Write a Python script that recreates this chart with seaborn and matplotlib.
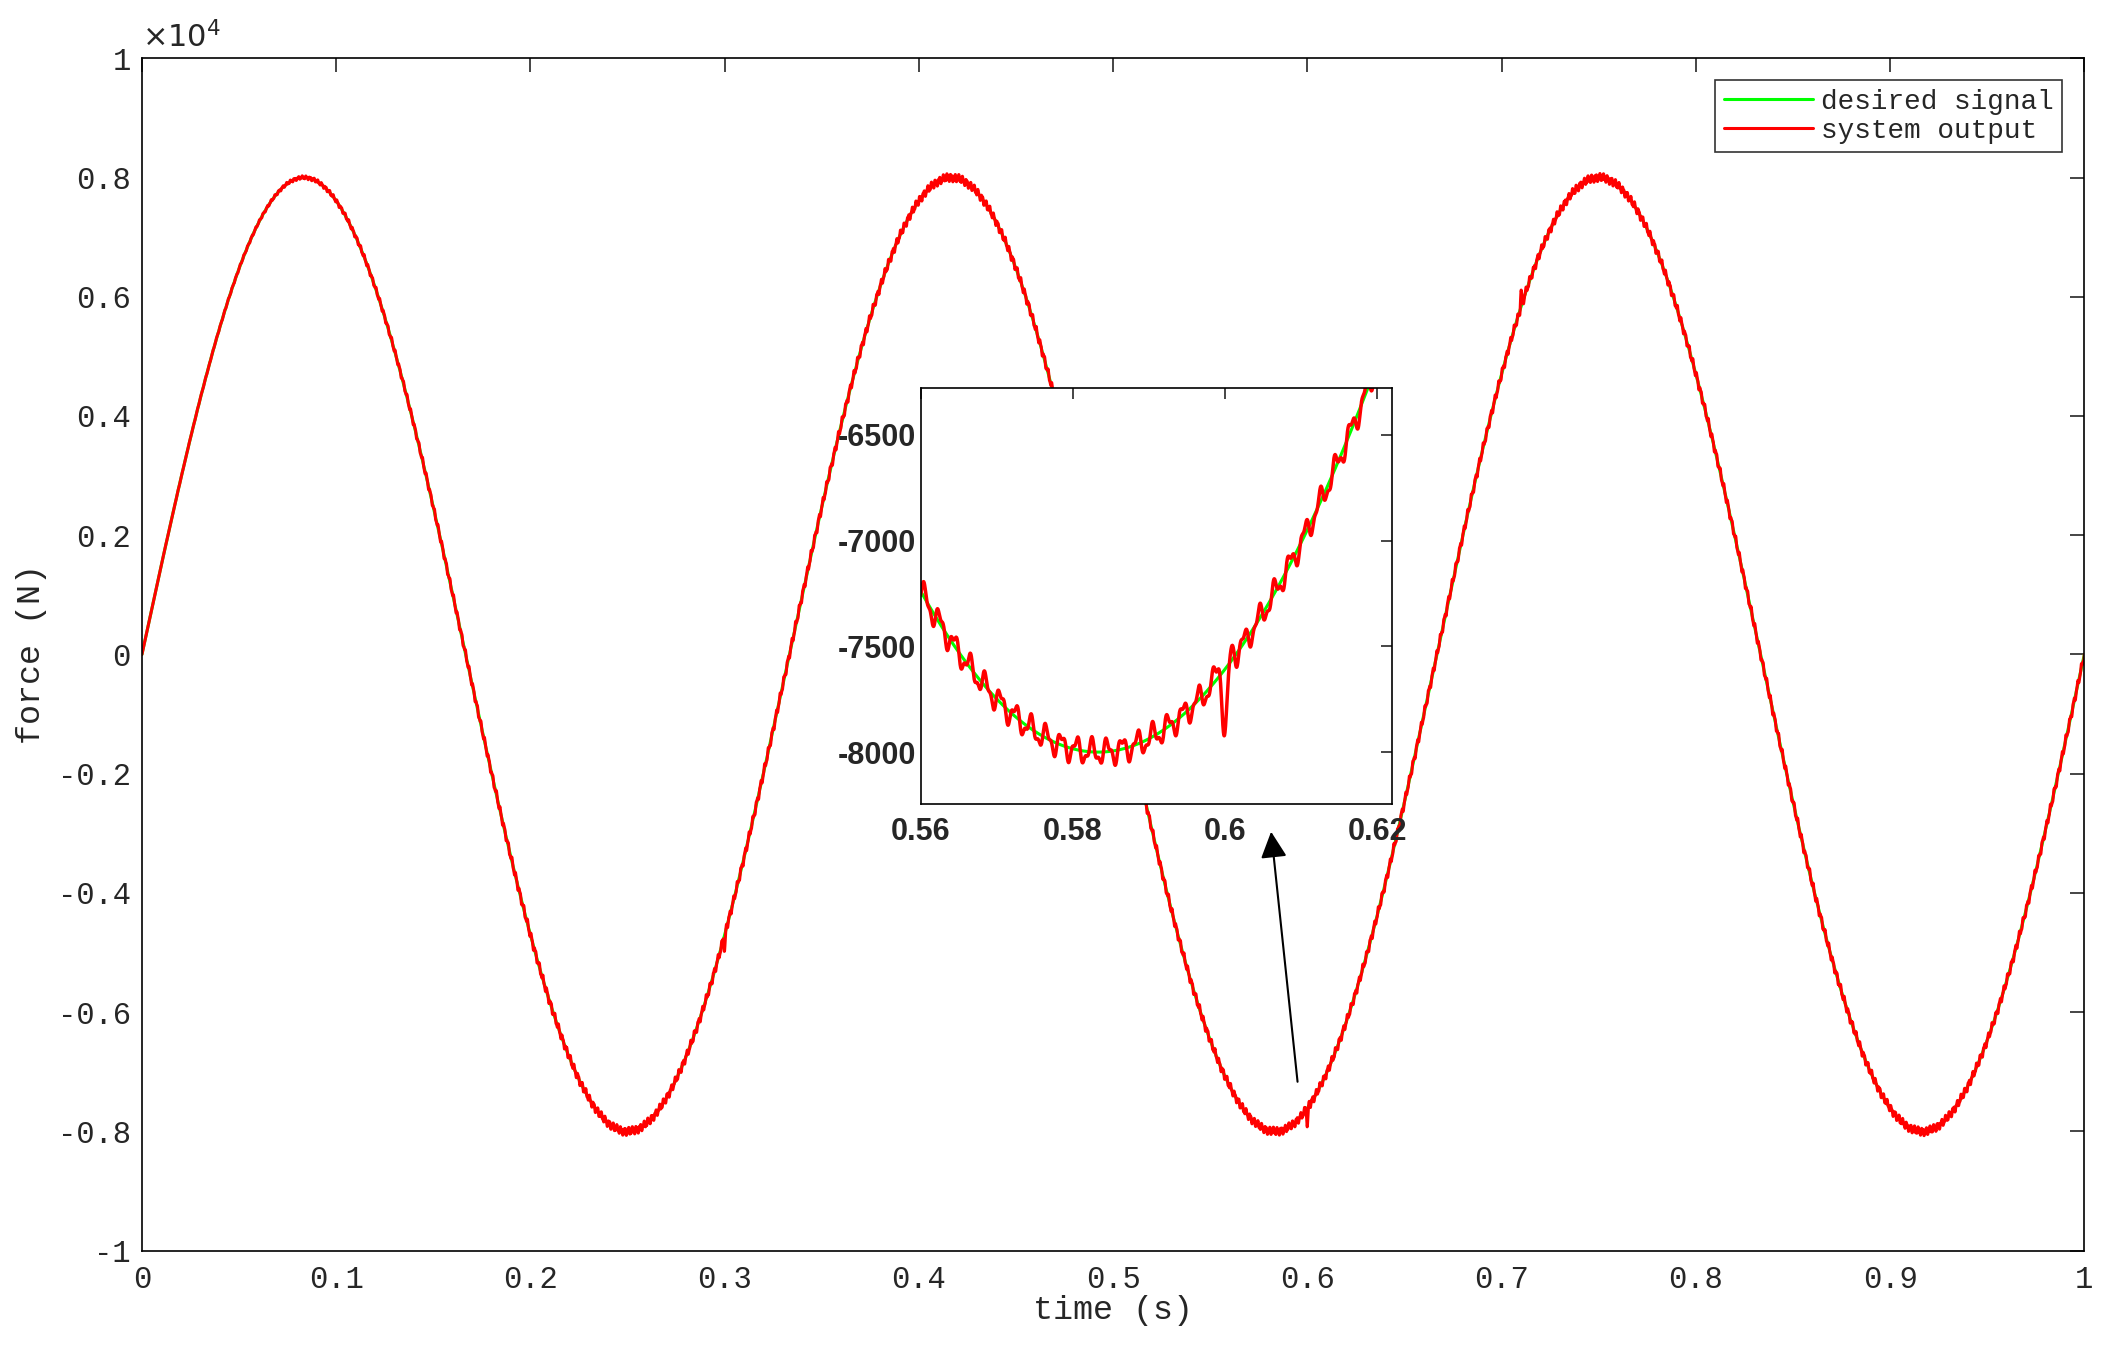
import numpy as np
import matplotlib
matplotlib.use("Agg")
import matplotlib.pyplot as plt
import seaborn as sns

# data parameters
amplitude = 8000.0          # N
frequency = 3.0             # Hz
ripple_amp = [50.0, 22.0]   # N
ripple_freq = [500.0, 1130.0]  # Hz
spike_times = [0.30, 0.60, 0.71]
spike_amps = [-250.0, -300.0, 250.0]
t_end = 1.0
n_samples = 40001

t = np.linspace(0, t_end, n_samples)
desired = amplitude * np.sin(2 * np.pi * frequency * t)
env = np.clip(t / 0.2, 0, 1)
output = desired.copy()
for a, f in zip(ripple_amp, ripple_freq):
    output += env * a * np.sin(2 * np.pi * f * t)
for ts, a in zip(spike_times, spike_amps):
    output += a * np.exp(-((t - ts) / 0.0008) ** 2) * np.sin(2 * np.pi * 400 * (t - ts) + 1.5)

sns.set_theme(style="white")
plt.rcParams['font.family'] = ['Liberation Mono', 'DejaVu Sans']
plt.rcParams['axes.unicode_minus'] = False

fig = plt.figure(figsize=(21.09, 13.55), dpi=100)
ax = fig.add_axes([0.0673, 0.077, 0.921, 0.880])
sns.lineplot(x=t, y=desired, ax=ax, color='#00ff00', lw=2.2, label='desired signal')
sns.lineplot(x=t, y=output, ax=ax, color='red', lw=2.2, label='system output')
ax.set_xlim(0, 1)
ax.set_ylim(-10000, 10000)
ax.set_xticks(np.arange(0, 1.01, 0.1))
ax.set_xticklabels(['0'] + ['%.1f' % v for v in np.arange(0.1, 0.95, 0.1)] + ['1'])
ax.set_yticks(np.arange(-10000, 10001, 2000))
ax.set_yticklabels(['-1', '-0.8', '-0.6', '-0.4', '-0.2', '0', '0.2', '0.4', '0.6', '0.8', '1'])
ax.text(0.0, 1.003, r'$\times10^4$', transform=ax.transAxes, fontsize=22, va='bottom', ha='left')
ax.tick_params(direction='in', length=10, labelsize=22, top=True, right=True, width=1.2)
ax.tick_params(axis='x', pad=10)
ax.tick_params(axis='y', pad=8)
for s in ax.spines.values():
    s.set_color('black'); s.set_linewidth(1.2)
ax.set_xlabel('time (s)', fontsize=24, labelpad=0)
ax.set_ylabel('force (N)', fontsize=24, labelpad=8)
leg = ax.legend(loc='upper right', fontsize=20, frameon=True, fancybox=False,
                edgecolor='black', borderaxespad=0.8, handlelength=3.2,
                borderpad=0.3, labelspacing=0.1, handletextpad=0.3)
leg.get_frame().set_linewidth(1.2)

ins = fig.add_axes([0.4365, 0.407, 0.2237, 0.307])
m = (t >= 0.56) & (t <= 0.622)
sns.lineplot(x=t[m], y=desired[m], ax=ins, color='#00ff00', lw=2.2)
sns.lineplot(x=t[m], y=output[m], ax=ins, color='red', lw=2.5)
ins.set_xlim(0.56, 0.622)
ins.set_ylim(-8243, -6277)
ins.set_xticks([0.56, 0.58, 0.6, 0.62])
ins.set_xticklabels(['0.56', '0.58', '0.6', '0.62'])
ins.set_yticks([-8000, -7500, -7000, -6500])
ins.set_yticklabels(['-8000', '-7500', '-7000', '-6500'])
ins.tick_params(direction='in', length=8, labelsize=22, top=True, right=True, width=1.2)
ins.tick_params(axis='x', pad=10)
for lab in ins.get_xticklabels() + ins.get_yticklabels():
    lab.set_family('Liberation Sans'); lab.set_fontweight('bold')
for s in ins.spines.values():
    s.set_color('black'); s.set_linewidth(1.2)

fig.patches.append(matplotlib.patches.FancyArrowPatch(
    (960 / 1560, 1 - 802 / 1002), (940 / 1560, 1 - 613 / 1002),
    transform=fig.transFigure, arrowstyle='-|>', mutation_scale=40, lw=1.5, color='black'))

fig.savefig('out.png', dpi=100, facecolor='white')
